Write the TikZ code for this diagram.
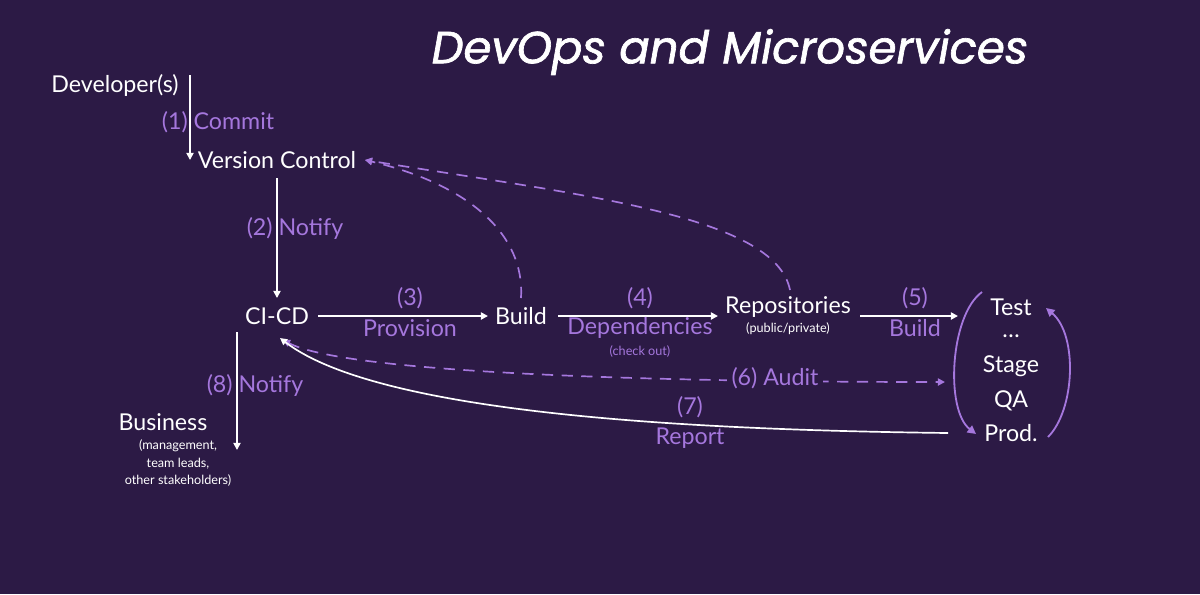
\documentclass[tikz,border=0pt]{standalone}
\usepackage{fontspec}
\setmainfont{Lato}
\newfontfamily\titlefont{Poppins}
\usetikzlibrary{arrows.meta}
\definecolor{bg}{HTML}{2C1A45}
\definecolor{lav}{HTML}{A577DD}
\begin{document}
\begin{tikzpicture}[x=0.025cm,y=-0.025cm,
  w/.style={text=white,font=\fontsize{16.5}{18}\selectfont,inner sep=1pt},
  p/.style={text=lav,font=\fontsize{16.5}{18}\selectfont,inner sep=1pt},
  sm/.style={text=white,font=\fontsize{9}{10}\selectfont,inner sep=1pt},
  smp/.style={text=lav,font=\fontsize{9}{10}\selectfont,inner sep=1pt},
  wa/.style={draw=white,line width=1.2pt,-{Triangle[length=5pt,width=5pt]}},
  pa/.style={draw=lav,line width=1.2pt,dash pattern=on 8pt off 6pt,-{Triangle[length=5pt,width=5pt]}},
  pl/.style={draw=lav,line width=1.3pt,-{Triangle[length=6pt,width=6pt]}}]
\fill[bg] (0,0) rectangle (1200,594);
\useasboundingbox (0,0) rectangle (1200,594);
\node[text=white,font=\titlefont\itshape\fontsize{32}{36}\selectfont] (title) at (730,52) {\addfontfeatures{FakeBold=1.5}DevOps and Microservices};
\node[w] (dev) at (115,85) {Developer(s)};
\node[w] (vc) at (277,160) {Version Control};
\node[w] (ci) at (277,316) {CI-CD};
\node[w] (build) at (521,316) {Build};
\node[w] (repo) at (788,307) {Repositories};
\node[sm] (repos) at (788,329) {(public/private)};
\node[w] (test) at (1011,307) {Test};
\node[w] (dots) at (1011,336) {\dots};
\node[w] (stage) at (1011,366) {Stage};
\node[w] (qa) at (1011,401) {QA};
\node[w] (prod) at (1011,433) {Prod.};
\node[w] (bus) at (163,422) {Business};
\node[sm] (b1) at (178,446) {(management,};
\node[sm] (b2) at (178,464) {team leads,};
\node[sm] (b3) at (178,481) {other stakeholders)};
\coordinate (d1) at (190,75); \coordinate (d2) at (190,160);
\draw[wa] (d1) -- (d2);
\node[p] (l1) at (218,122) {(1) Commit};
\coordinate (v1) at (277,178); \coordinate (v2) at (277,298);
\draw[wa] (v1) -- (v2);
\node[p] (l2) at (295,228) {(2) Notify};
\coordinate (c1) at (318,316); \coordinate (c2) at (488,316);
\draw[wa] (c1) -- (c2);
\node[p] (l3a) at (410,298) {(3)};
\node[p] (l3b) at (410,328) {Provision};
\coordinate (e1) at (558,316); \coordinate (e2) at (718,316);
\draw[wa] (e1) -- (e2);
\node[p] (l4a) at (640,298) {(4)};
\node[p] (l4b) at (640,328) {Dependencies};
\node[smp] (l4c) at (640,352) {(check out)};
\coordinate (f1) at (860,316); \coordinate (f2) at (958,316);
\draw[wa] (f1) -- (f2);
\node[p] (l5a) at (915,298) {(5)};
\node[p] (l5b) at (915,328) {Build};
\coordinate (a1) at (982,292); \coordinate (a2) at (976,434);
\draw[pl] (a1) .. controls (950,315) and (945,410) .. (a2);
\coordinate (r1) at (1048,437); \coordinate (r2) at (1046,308);
\draw[pl] (r1) .. controls (1075,410) and (1078,335) .. (r2);
\coordinate (vce) at (365,160);
\draw[pa] (521,298) .. controls (525,235) and (470,185) .. (vce);
\draw[pa] (790,290) .. controls (775,215) and (580,195) .. (vce);
\coordinate (au1) at (945,382); \coordinate (au2) at (283,340);
\draw[pa,{Triangle[length=5pt,width=5pt]}-{Triangle[length=5pt,width=5pt]}] (au2) .. controls (340,370) and (600,382) .. (au1);
\node[p,fill=bg,inner sep=3pt] (l6) at (775,378) {(6) Audit};
\coordinate (rp1) at (948,433); \coordinate (rp2) at (280,338);
\draw[wa] (rp1) .. controls (700,430) and (380,415) .. (rp2);
\node[p] (l7a) at (690,407) {(7)};
\node[p] (l7b) at (690,438) {Report};
\coordinate (n1) at (237,332); \coordinate (n2) at (237,450);
\draw[wa] (n1) -- (n2);
\node[p] (l8) at (255,385) {(8) Notify};
\end{tikzpicture}
\end{document}
